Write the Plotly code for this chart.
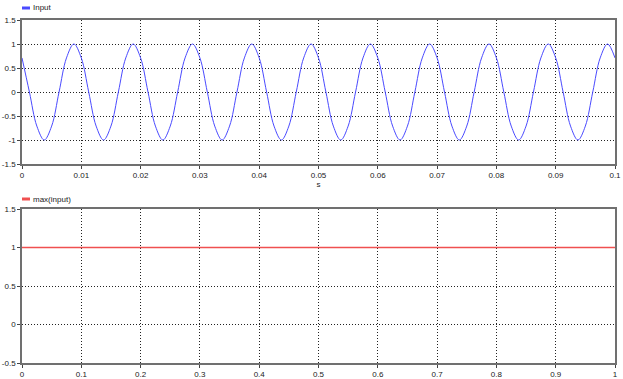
import plotly.graph_objects as go

# ---- data ----
sample_step = 0.00125
input_values = [
    0.71, 0.0, -0.71, -1.0, -0.71, 0.0, 0.71, 1.0,
    0.71, 0.0, -0.71, -1.0, -0.71, 0.0, 0.71, 1.0,
    0.71, 0.0, -0.71, -1.0, -0.71, 0.0, 0.71, 1.0,
    0.71, 0.0, -0.71, -1.0, -0.71, 0.0, 0.71, 1.0,
    0.71, 0.0, -0.71, -1.0, -0.71, 0.0, 0.71, 1.0,
    0.71, 0.0, -0.71, -1.0, -0.71, 0.0, 0.71, 1.0,
    0.71, 0.0, -0.71, -1.0, -0.71, 0.0, 0.71, 1.0,
    0.71, 0.0, -0.71, -1.0, -0.71, 0.0, 0.71, 1.0,
    0.71, 0.0, -0.71, -1.0, -0.71, 0.0, 0.71, 1.0,
    0.71, 0.0, -0.71, -1.0, -0.71, 0.0, 0.71, 1.0,
    0.71,
]
input_time = [round(i * sample_step, 5) for i in range(len(input_values))]

max_time = [0.0, 1.0]
max_values = [1.0, 1.0]

top_xticks = [0, 0.01, 0.02, 0.03, 0.04, 0.05, 0.06, 0.07, 0.08, 0.09, 0.1]
top_xlabels = ["0", "0.01", "0.02", "0.03", "0.04", "0.05", "0.06", "0.07", "0.08", "0.09", "0.1"]
top_yticks = [-1.5, -1, -0.5, 0, 0.5, 1, 1.5]
top_ylabels = ["-1.5", "-1", "-0.5", "0", "0.5", "1", "1.5"]
bot_xticks = [0, 0.1, 0.2, 0.3, 0.4, 0.5, 0.6, 0.7, 0.8, 0.9, 1]
bot_xlabels = ["0", "0.1", "0.2", "0.3", "0.4", "0.5", "0.6", "0.7", "0.8", "0.9", "1"]
bot_yticks = [-0.5, 0, 0.5, 1, 1.5]
bot_ylabels = ["-0.5", "0", "0.5", "1", "1.5"]

W, H = 623, 379
BLUE = "#4a4aff"
RED = "#f05050"
FONT = dict(family="Liberation Sans, Arial, sans-serif", size=8, color="#222222")

fig = go.Figure()
fig.add_trace(go.Scatter(x=input_time, y=input_values, mode="lines",
                         line=dict(color=BLUE, width=1, shape="spline", smoothing=1.0),
                         name="Input", xaxis="x", yaxis="y", showlegend=False))
fig.add_trace(go.Scatter(x=max_time, y=max_values, mode="lines",
                         line=dict(color=RED, width=1.6),
                         name="max(input)", xaxis="x2", yaxis="y2", showlegend=False))

xl, xr = 22 / W, 615 / W
top_dom = [1 - 164 / H, 1 - 20 / H]
bot_dom = [1 - 363 / H, 1 - 209 / H]

axis_common = dict(showline=True, linecolor="#707070", linewidth=1.5, mirror=True,
                   showgrid=True, gridcolor="#222222", griddash="1px,2px", gridwidth=1,
                   zeroline=False, ticks="outside", ticklen=3, tickcolor="#444444",
                   tickfont=FONT, fixedrange=True, automargin=False)

fig.update_layout(
    width=W, height=H, autosize=False,
    margin=dict(l=0, r=0, t=0, b=0, pad=0, autoexpand=False),
    paper_bgcolor="white", plot_bgcolor="white",
    font=FONT,
    xaxis=dict(domain=[xl, xr], anchor="y", range=[0, 0.1],
               tickvals=top_xticks, ticktext=top_xlabels,
               title=dict(text="s", font=FONT, standoff=2), **axis_common),
    yaxis=dict(domain=top_dom, anchor="x", range=[-1.5, 1.5],
               tickvals=top_yticks, ticktext=top_ylabels, **axis_common),
    xaxis2=dict(domain=[xl, xr], anchor="y2", range=[0, 1],
                tickvals=bot_xticks, ticktext=bot_xlabels, **axis_common),
    yaxis2=dict(domain=bot_dom, anchor="x2", range=[-0.5, 1.5],
                tickvals=bot_yticks, ticktext=bot_ylabels, **axis_common),
)

# legend-like labels
for ypix, color, text in [(8, BLUE, "Input"), (199, RED, "max(input)")]:
    fig.add_shape(type="line", xref="paper", yref="paper",
                  x0=22 / W, x1=30 / W, y0=1 - ypix / H, y1=1 - ypix / H,
                  line=dict(color=color, width=3))
    fig.add_annotation(xref="paper", yref="paper", x=31 / W, y=1 - ypix / H,
                       text=text, showarrow=False, xanchor="left", yanchor="middle",
                       font=dict(family="Liberation Sans, Arial, sans-serif", size=8, color="#222222"))

fig.write_html("out.html", config={"responsive": False})
